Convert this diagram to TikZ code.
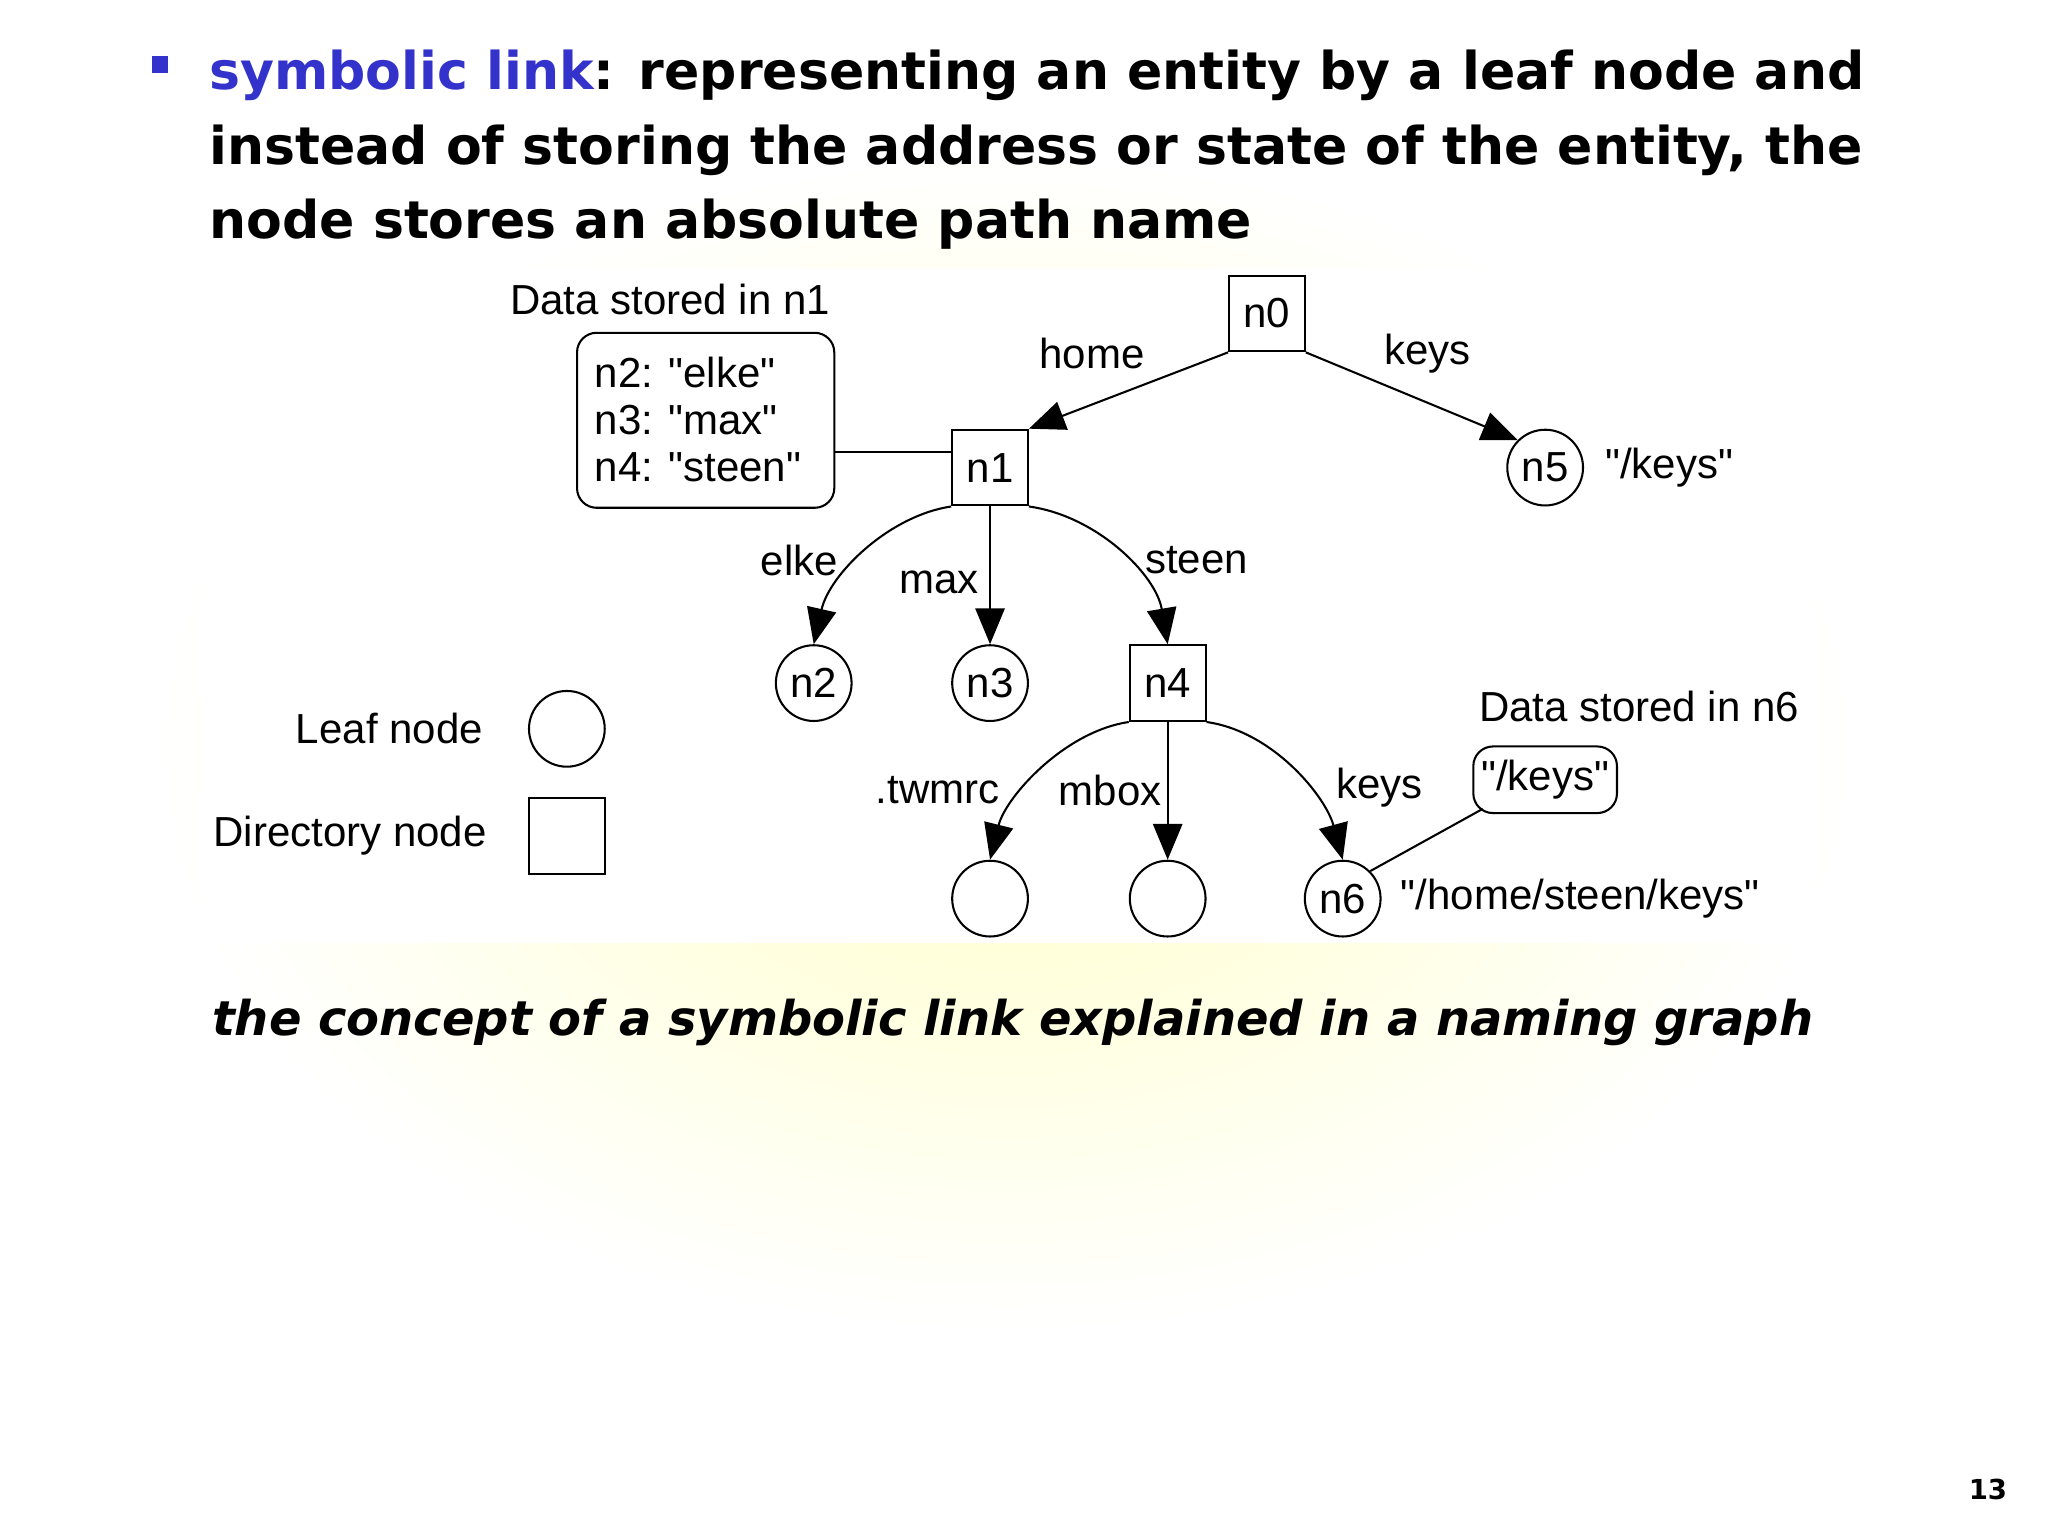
\documentclass[tikz,border=0pt]{standalone}
\usepackage{fontspec}
\setmainfont{Liberation Sans}
\newfontfamily\titlefont{DejaVu Sans}
\usetikzlibrary{arrows.meta}
\definecolor{tblue}{RGB}{51,51,204}
\newcommand{\dq}{\textquotedbl}
\begin{document}
\begin{tikzpicture}[x=0.02cm,y=-0.02cm,
  dfont/.style={font=\fontsize{18.3}{21}\selectfont},
  dirn/.style={draw,line width=0.9pt,minimum size=1.16cm,inner sep=0pt,dfont},
  leafn/.style={draw,circle,line width=0.9pt,minimum size=1.16cm,inner sep=0pt,dfont},
  lbl/.style={dfont,inner sep=0pt},
  arr/.style={line width=0.9pt,-{Triangle[length=0.55cm,width=0.45cm]}},
  ln/.style={line width=0.9pt}]
\useasboundingbox (0,0) rectangle (1568,1176);
\fill[white] (0,0) rectangle (1568,1176);
\shade[inner color=yellow!22,outer color=white] (120,120) rectangle (1420,1020);
\fill[white] (155,205) rectangle (1390,722);
% title
\fill[tblue] (116,43) rectangle (129,56);
\node[anchor=north west,inner sep=0pt,align=left,font=\titlefont\bfseries\fontsize{22.7}{32.4}\selectfont] (title) at (160,38)
 {{\color{tblue}symbolic link}: representing an entity by a leaf node and\\instead of storing the address or state of the entity, the\\node stores an absolute path name};
% nodes
\node[dirn] (n0) at (970,240) {n0};
\node[dirn] (n1) at (758,358) {n1};
\node[leafn] (n5) at (1183,358) {n5};
\node[leafn] (n2) at (623,523) {n2};
\node[leafn] (n3) at (758,523) {n3};
\node[dirn] (n4) at (894,523) {n4};
\node[leafn] (l1) at (758,688) {};
\node[leafn] (l2) at (894,688) {};
\node[leafn] (n6) at (1028,688) {n6};
% legend
\node[leafn] (lc) at (434,558) {};
\node[dirn] (ls) at (434,640) {};
\node[lbl,anchor=east] (lt1) at (370,558) {Leaf node};
\node[lbl,anchor=east] (lt2) at (373,640) {Directory node};
% data boxes
\node[lbl] (d1t) at (513,229) {Data stored in n1};
\node[draw,ln,rounded corners=0.3cm,minimum width=3.94cm,minimum height=2.68cm,anchor=north west] (d1) at (441,254) {};
\node[lbl,anchor=west,align=left,font=\fontsize{18.3}{20.5}\selectfont] (d1x) at (455,321) {n2: \dq elke\dq\\n3: \dq max\dq\\n4: \dq steen\dq};
\node[lbl] (d6t) at (1255,541) {Data stored in n6};
\node[draw,ln,rounded corners=0.3cm,minimum width=2.2cm,minimum height=1.02cm,dfont,inner sep=0pt] (d6) at (1183,597) {\dq/keys\dq};
\node[lbl] (p5) at (1278,358) {\dq/keys\dq};
\node[lbl] (p6) at (1210,688) {\dq/home/steen/keys\dq};
\draw[ln] (d1.east |- 0,346) -- (n1.west |- 0,346);
\draw[ln] (d6.south west) ++(8,-4) coordinate (d6c) -- (n6.north east);
% edges
\draw[arr] (n0.south west) -- (n1.north east);
\draw[arr] (n0.south east) -- (n5.north west);
\draw[arr] (n1.south west) .. controls (680,395) and (635,440) .. (n2.north);
\draw[arr] (n1.south) -- (n3.north);
\draw[arr] (n1.south east) .. controls (840,395) and (885,440) .. (n4.north);
\draw[arr] (n4.south west) .. controls (815,560) and (770,610) .. (l1.north);
\draw[arr] (n4.south) -- (l2.north);
\draw[arr] (n4.south east) .. controls (975,560) and (1015,610) .. (n6.north);
% labels
\node[lbl] (e1) at (836,271) {home};
\node[lbl] (e2) at (1093,271) {keys};
\node[lbl] (e3) at (612,429) {elke};
\node[lbl] (e4) at (719,446) {max};
\node[lbl] (e5) at (916,429) {steen};
\node[lbl] (e6) at (718,605) {.twmrc};
\node[lbl] (e7) at (850,605) {mbox};
\node[lbl] (e8) at (1056,603) {keys};
% caption
\node[anchor=base west,inner sep=0pt,font=\titlefont\bfseries\itshape\fontsize{20.9}{26}\selectfont] (cap) at (162,793) {the concept of a symbolic link explained in a naming graph};
\node[inner sep=0pt,font=\titlefont\bfseries\fontsize{12}{14}\selectfont] (pg) at (1522,1140) {13};
\end{tikzpicture}
\end{document}
